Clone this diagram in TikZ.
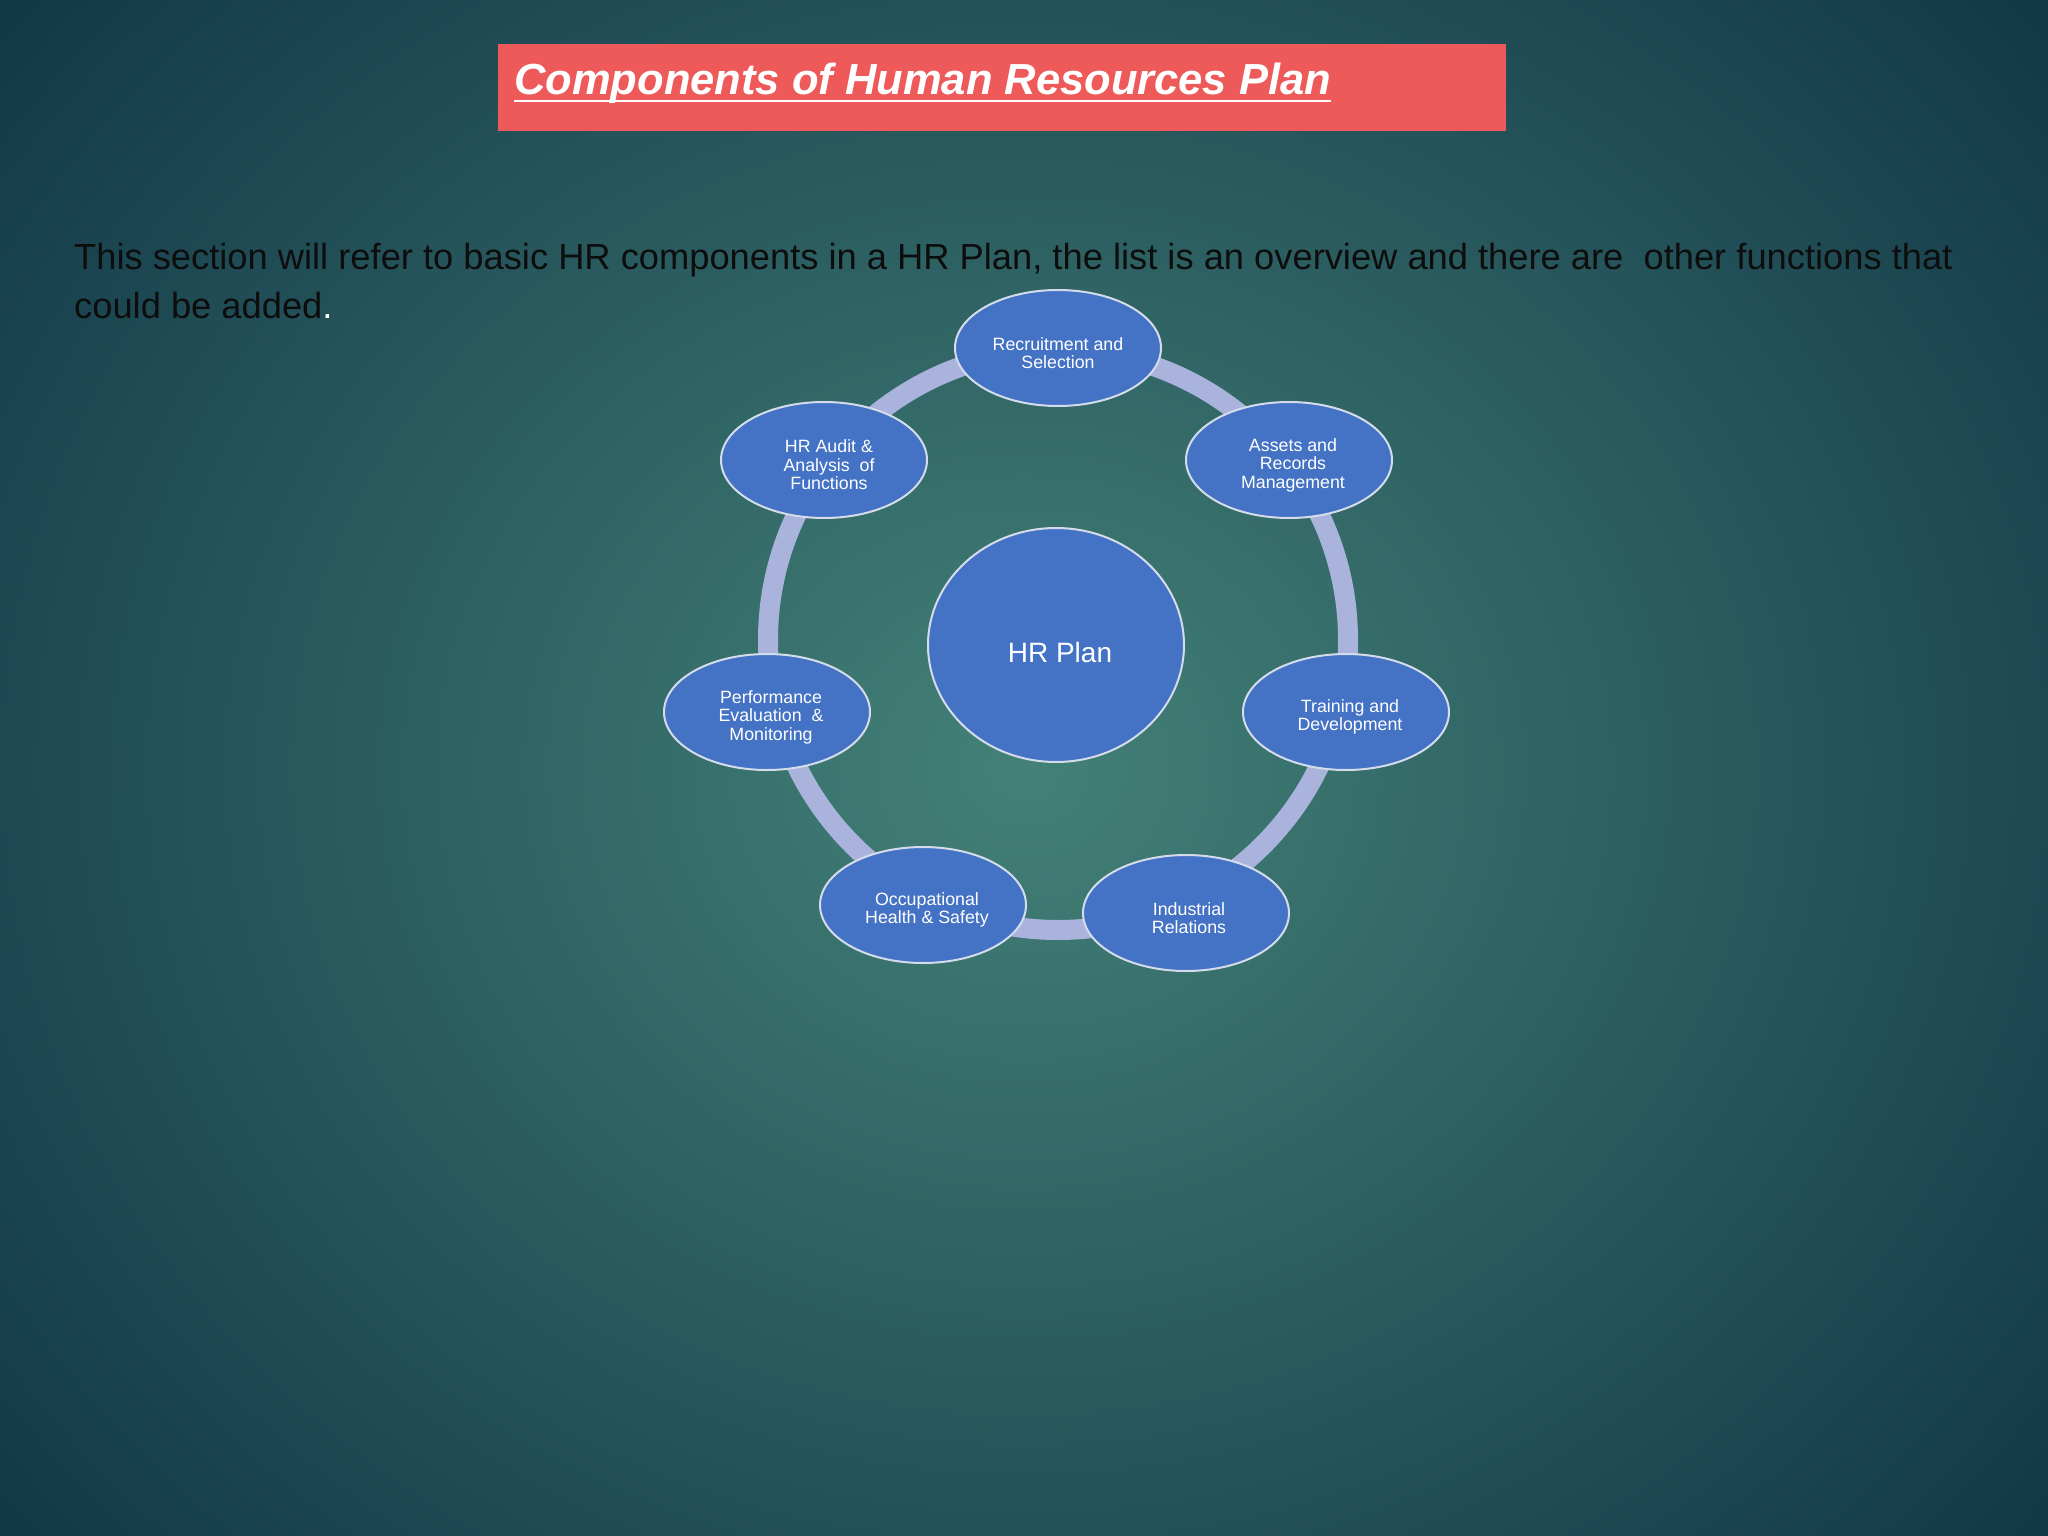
\documentclass[tikz,border=0pt]{standalone}
\usepackage{fontspec}
\setmainfont{Liberation Sans}
\usetikzlibrary{shapes.geometric}
\definecolor{bgin}{HTML}{438177}
\definecolor{bgout}{HTML}{123848}
\definecolor{ttl}{HTML}{EE5A5A}
\definecolor{ring}{HTML}{A9B3DC}
\definecolor{nfill}{HTML}{4472C4}
\definecolor{nedge}{HTML}{D4DCEC}
\tikzset{comp/.style={ellipse,fill=nfill,draw=nedge,line width=2pt,minimum width=206pt,minimum height=116pt,inner sep=0pt},
ctext/.style={text=white,align=center,inner sep=0pt,font=\fontsize{17.8}{18.5}\selectfont}}
\begin{document}
\begin{tikzpicture}[x=1pt,y=-1pt]
\useasboundingbox (0,0) rectangle (2048,1536);
\shade[inner color=bgin,outer color=bgout] (-300,-400) rectangle (2348,1936);
\node[fill=ttl,minimum width=1008pt,minimum height=87pt,anchor=north west,inner sep=0pt] (tb) at (498,44) {};
\node[anchor=west,text=white,font=\fontsize{43.5}{50}\selectfont\bfseries\itshape,inner sep=0pt] (tt) at (514,83) {Components of Human Resources Plan};
\draw[white,line width=2.5pt] ([yshift=-7pt]tt.base west) -- ([yshift=-7pt]tt.base east);
\node[anchor=north west,align=left,inner sep=0pt,text=black!95,font=\fontsize{36.3}{49}\selectfont] (body) at (74,243) {This section will refer to basic HR components in a HR Plan, the list is an overview and there are\ \ other functions that\\could be added{\color{white}.}};
\draw[ring,line width=20pt] (1058,640) circle (290);
\node[ellipse,fill=nfill,draw=nedge,line width=2pt,minimum width=256pt,minimum height=234pt] (hr) at (1056,645) {};
\node[text=white,font=\fontsize{28}{30}\selectfont] (hrt) at (1060,652) {HR Plan};
\node[comp] (rec) at (1058,348) {};
\node[comp] (ass) at (1289,460) {};
\node[comp] (tra) at (1346,712) {};
\node[comp] (ind) at (1186,913) {};
\node[comp] (occ) at (923,905) {};
\node[comp] (per) at (767,712) {};
\node[comp] (aud) at (824,460) {};
\node[ctext] (trec) at ([yshift=-5pt]rec.center) {Recruitment and\\Selection};
\node[ctext] (tass) at ([yshift=-5pt,xshift=4pt]ass.center) {Assets and\\Records\\Management};
\node[ctext] (ttra) at ([yshift=-5pt,xshift=4pt]tra.center) {Training and\\Development};
\node[ctext] (tind) at ([yshift=-5pt,xshift=3pt]ind.center) {Industrial\\Relations};
\node[ctext] (tocc) at ([yshift=-5pt,xshift=4pt]occ.center) {Occupational\\Health \& Safety};
\node[ctext] (tper) at ([yshift=-5pt,xshift=4pt]per.center) {Performance\\Evaluation\ \ \&\\Monitoring};
\node[ctext] (taud) at ([yshift=-5pt,xshift=5pt]aud.center) {HR Audit \&\\Analysis\ \ of\\Functions};
\end{tikzpicture}
\end{document}
